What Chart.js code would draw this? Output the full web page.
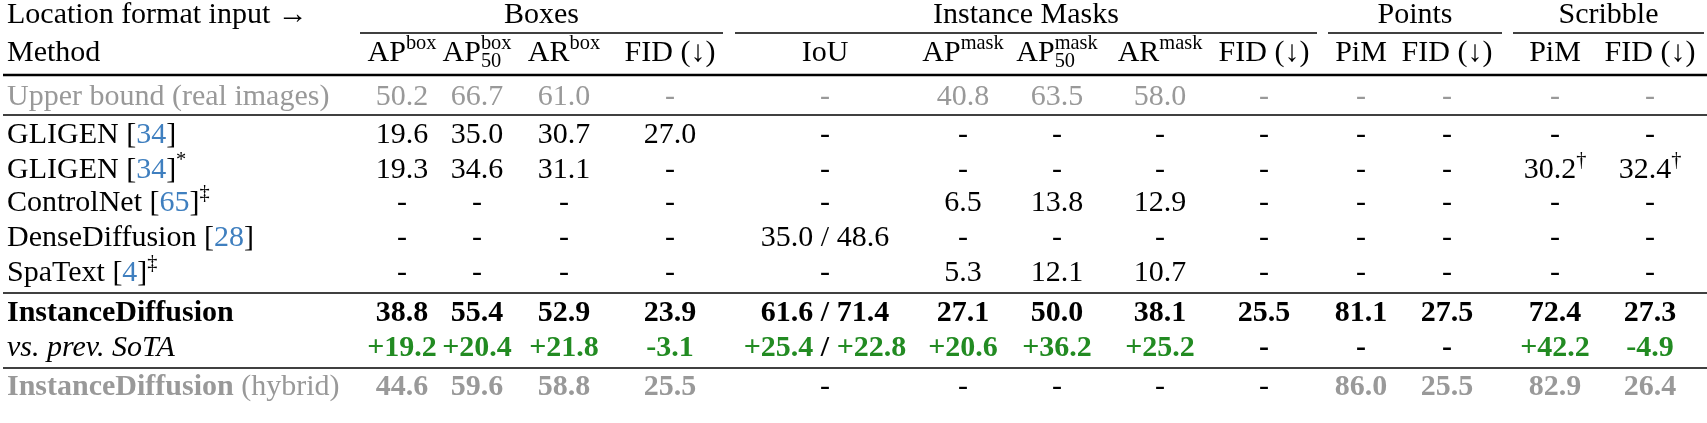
<!DOCTYPE html>
<html>
<head>
<meta charset="utf-8">
<script src="https://cdn.jsdelivr.net/npm/chart.js@4.4.0/dist/chart.umd.min.js"></script>
<style>
  html, body { margin: 0; padding: 0; background: #fff; }
  canvas { display: block; }
</style>
</head>
<body>
<canvas id="tableChart" width="1707" height="423"></canvas>
<script>
// ---- table data ----
const groups = ["Boxes", "Instance Masks", "Points", "Scribble"];
const columns = ["AP|box|", "AP|box|50", "AR|box|", "FID (↓)", "IoU", "AP|mask|", "AP|mask|50", "AR|mask|", "FID (↓)", "PiM", "FID (↓)", "PiM", "FID (↓)"];
const methods = ["Upper bound (real images)", "GLIGEN [34]", "GLIGEN [34]*", "ControlNet [65]‡", "DenseDiffusion [28]", "SpaText [4]‡", "InstanceDiffusion", "vs. prev. SoTA", "InstanceDiffusion (hybrid)"];
const upperBound = ["50.2", "66.7", "61.0", "-", "-", "40.8", "63.5", "58.0", "-", "-", "-", "-", "-"];
const gligen = ["19.6", "35.0", "30.7", "27.0", "-", "-", "-", "-", "-", "-", "-", "-", "-"];
const gligenStar = ["19.3", "34.6", "31.1", "-", "-", "-", "-", "-", "-", "-", "-", "30.2†", "32.4†"];
const controlNet = ["-", "-", "-", "-", "-", "6.5", "13.8", "12.9", "-", "-", "-", "-", "-"];
const denseDiffusion = ["-", "-", "-", "-", "35.0 / 48.6", "-", "-", "-", "-", "-", "-", "-", "-"];
const spaText = ["-", "-", "-", "-", "-", "5.3", "12.1", "10.7", "-", "-", "-", "-", "-"];
const instanceDiffusion = ["38.8", "55.4", "52.9", "23.9", "61.6 / 71.4", "27.1", "50.0", "38.1", "25.5", "81.1", "27.5", "72.4", "27.3"];
const vsPrevSota = ["+19.2", "+20.4", "+21.8", "-3.1", "+25.4 / +22.8", "+20.6", "+36.2", "+25.2", "-", "-", "-", "+42.2", "-4.9"];
const hybrid = ["44.6", "59.6", "58.8", "25.5", "-", "-", "-", "-", "-", "86.0", "25.5", "82.9", "26.4"];
const tableRows = [upperBound, gligen, gligenStar, controlNet, denseDiffusion, spaText, instanceDiffusion, vsPrevSota, hybrid];

// ---- layout (pixel units on the hidden linear scales) ----
const colX = [402, 477, 564, 670, 825, 963, 1057, 1160, 1264, 1361, 1447, 1555, 1650];
const groupSpan = [[360, 723], [735, 1317], [1328, 1502], [1513, 1704]];
const rowY = [97, 135, 170, 203, 238, 273, 313, 348, 387];
const headY = [15, 53];
const GRAY = "#999999", GREEN = "#228b22", BLUE = "#3f7fbf", BLACK = "#000";
const rowStyle = [
  {color: GRAY}, {}, {}, {}, {}, {}, {bold: true}, {bold: true, color: GREEN}, {bold: true, color: GRAY}
];
const FS = 30, FAMILY = "'Liberation Serif', 'DejaVu Serif', serif";

function fontOf(s, size) {
  return (s.italic ? "italic " : "") + (s.bold ? "bold " : "") + size + "px " + FAMILY;
}

// split a method name into rich segments (blue citations, sup marks)
function methodSegs(name, base) {
  const segs = [];
  const re = /(\[)(\d+)(\])|([*‡†])/g;
  let last = 0, m;
  while ((m = re.exec(name)) !== null) {
    if (m.index > last) segs.push({...base, t: name.slice(last, m.index)});
    if (m[1]) {
      segs.push({...base, t: "["}, {...base, t: m[2], color: BLUE}, {...base, t: "]"});
    } else {
      segs.push({...base, t: m[4], sup: true});
    }
    last = re.lastIndex;
  }
  if (last < name.length) segs.push({...base, t: name.slice(last)});
  return segs;
}

function valueSegs(v, base) {
  if (v === "-") return [{...base, color: base.color === GREEN ? BLACK : base.color, t: "-"}];
  if (v.endsWith("†")) return [{...base, t: v.slice(0, -1)}, {...base, t: "†", sup: true}];
  if (v.includes(" / ")) {
    const [a, b] = v.split(" / ");
    return [{...base, t: a}, {...base, t: " / ", color: base.color === GREEN ? BLACK : base.color}, {...base, t: b}];
  }
  return [{...base, t: v}];
}

function headerSegs(label) {
  const p = label.split("|");
  if (p.length === 1) return [{t: label}];
  const segs = [{t: p[0]}, {t: p[1], sup: true}];
  if (p[2]) segs.push({t: p[2], sub: true, under: true});
  return segs;
}

function segWidth(ctx, s) {
  ctx.font = fontOf(s, s.sup || s.sub ? FS * 0.68 : FS);
  return ctx.measureText(s.t).width;
}

function drawSegs(ctx, segs, x, y, align) {
  // a sub placed under the preceding sup shares its x position
  let total = 0, supW = 0;
  segs.forEach(s => {
    const w = segWidth(ctx, s);
    if (s.under) total += Math.max(0, w - supW);
    else total += w;
    if (s.sup) supW = w;
  });
  let cx = align === "center" ? x - total / 2 : x;
  let prevX = cx;
  segs.forEach(s => {
    const w = segWidth(ctx, s);
    ctx.fillStyle = s.color || BLACK;
    ctx.textBaseline = "middle";
    ctx.textAlign = "left";
    if (s.under) {
      ctx.fillText(s.t, prevX, y + 9);
      cx = prevX + Math.max(w, supW);
      return;
    }
    const dy = s.sup ? -9 : (s.sub ? 9 : 0);
    ctx.fillText(s.t, cx, y + dy);
    prevX = cx;
    cx += w;
  });
}

const tablePlugin = {
  id: "tableText",
  afterDraw(chart) {
    const ctx = chart.ctx, xs = chart.scales.x, ys = chart.scales.y;
    const px = v => xs.getPixelForValue(v), py = v => ys.getPixelForValue(v);
    ctx.save();
    // headers
    drawSegs(ctx, [{t: "Location format input →"}], px(7), py(headY[0]), "left");
    drawSegs(ctx, [{t: "Method"}], px(7), py(headY[1]), "left");
    groups.forEach((g, i) => {
      const [a, b] = groupSpan[i];
      drawSegs(ctx, [{t: g}], px((a + b) / 2), py(headY[0]), "center");
      ctx.strokeStyle = BLACK; ctx.lineWidth = 1.3;
      ctx.beginPath(); ctx.moveTo(px(a), py(33)); ctx.lineTo(px(b), py(33)); ctx.stroke();
    });
    columns.forEach((c, i) => drawSegs(ctx, headerSegs(c), px(colX[i]), py(headY[1]), "center"));
    // rules
    [[75, 2.6], [115, 1.4], [293, 1.4], [368, 1.4]].forEach(([y, w]) => {
      ctx.strokeStyle = BLACK; ctx.lineWidth = w;
      ctx.beginPath(); ctx.moveTo(px(3), py(y)); ctx.lineTo(px(1707), py(y)); ctx.stroke();
    });
    // body
    tableRows.forEach((vals, r) => {
      const st = rowStyle[r];
      let nameSegs;
      if (r === 7) nameSegs = [{t: methods[r], italic: true}];
      else if (r === 8) nameSegs = [{t: "InstanceDiffusion", bold: true, color: GRAY}, {t: " (hybrid)", color: GRAY}];
      else nameSegs = methodSegs(methods[r], {bold: st.bold, color: st.color});
      drawSegs(ctx, nameSegs, px(7), py(rowY[r]), "left");
      vals.forEach((v, c) => {
        let base = {...st};
        if (r === 8 && v === "-") base = {};
        drawSegs(ctx, valueSegs(v, base), px(colX[c]), py(rowY[r]), "center");
      });
    });
    ctx.restore();
  }
};

new Chart(document.getElementById("tableChart"), {
  type: "scatter",
  data: {datasets: [{data: [], pointRadius: 0}]},
  options: {
    responsive: false,
    animation: false,
    layout: {padding: 0},
    plugins: {legend: {display: false}, tooltip: {enabled: false}},
    scales: {
      x: {type: "linear", min: 0, max: 1707, display: false},
      y: {type: "linear", min: 0, max: 423, reverse: true, display: false}
    }
  },
  plugins: [tablePlugin]
});
</script>
</body>
</html>
